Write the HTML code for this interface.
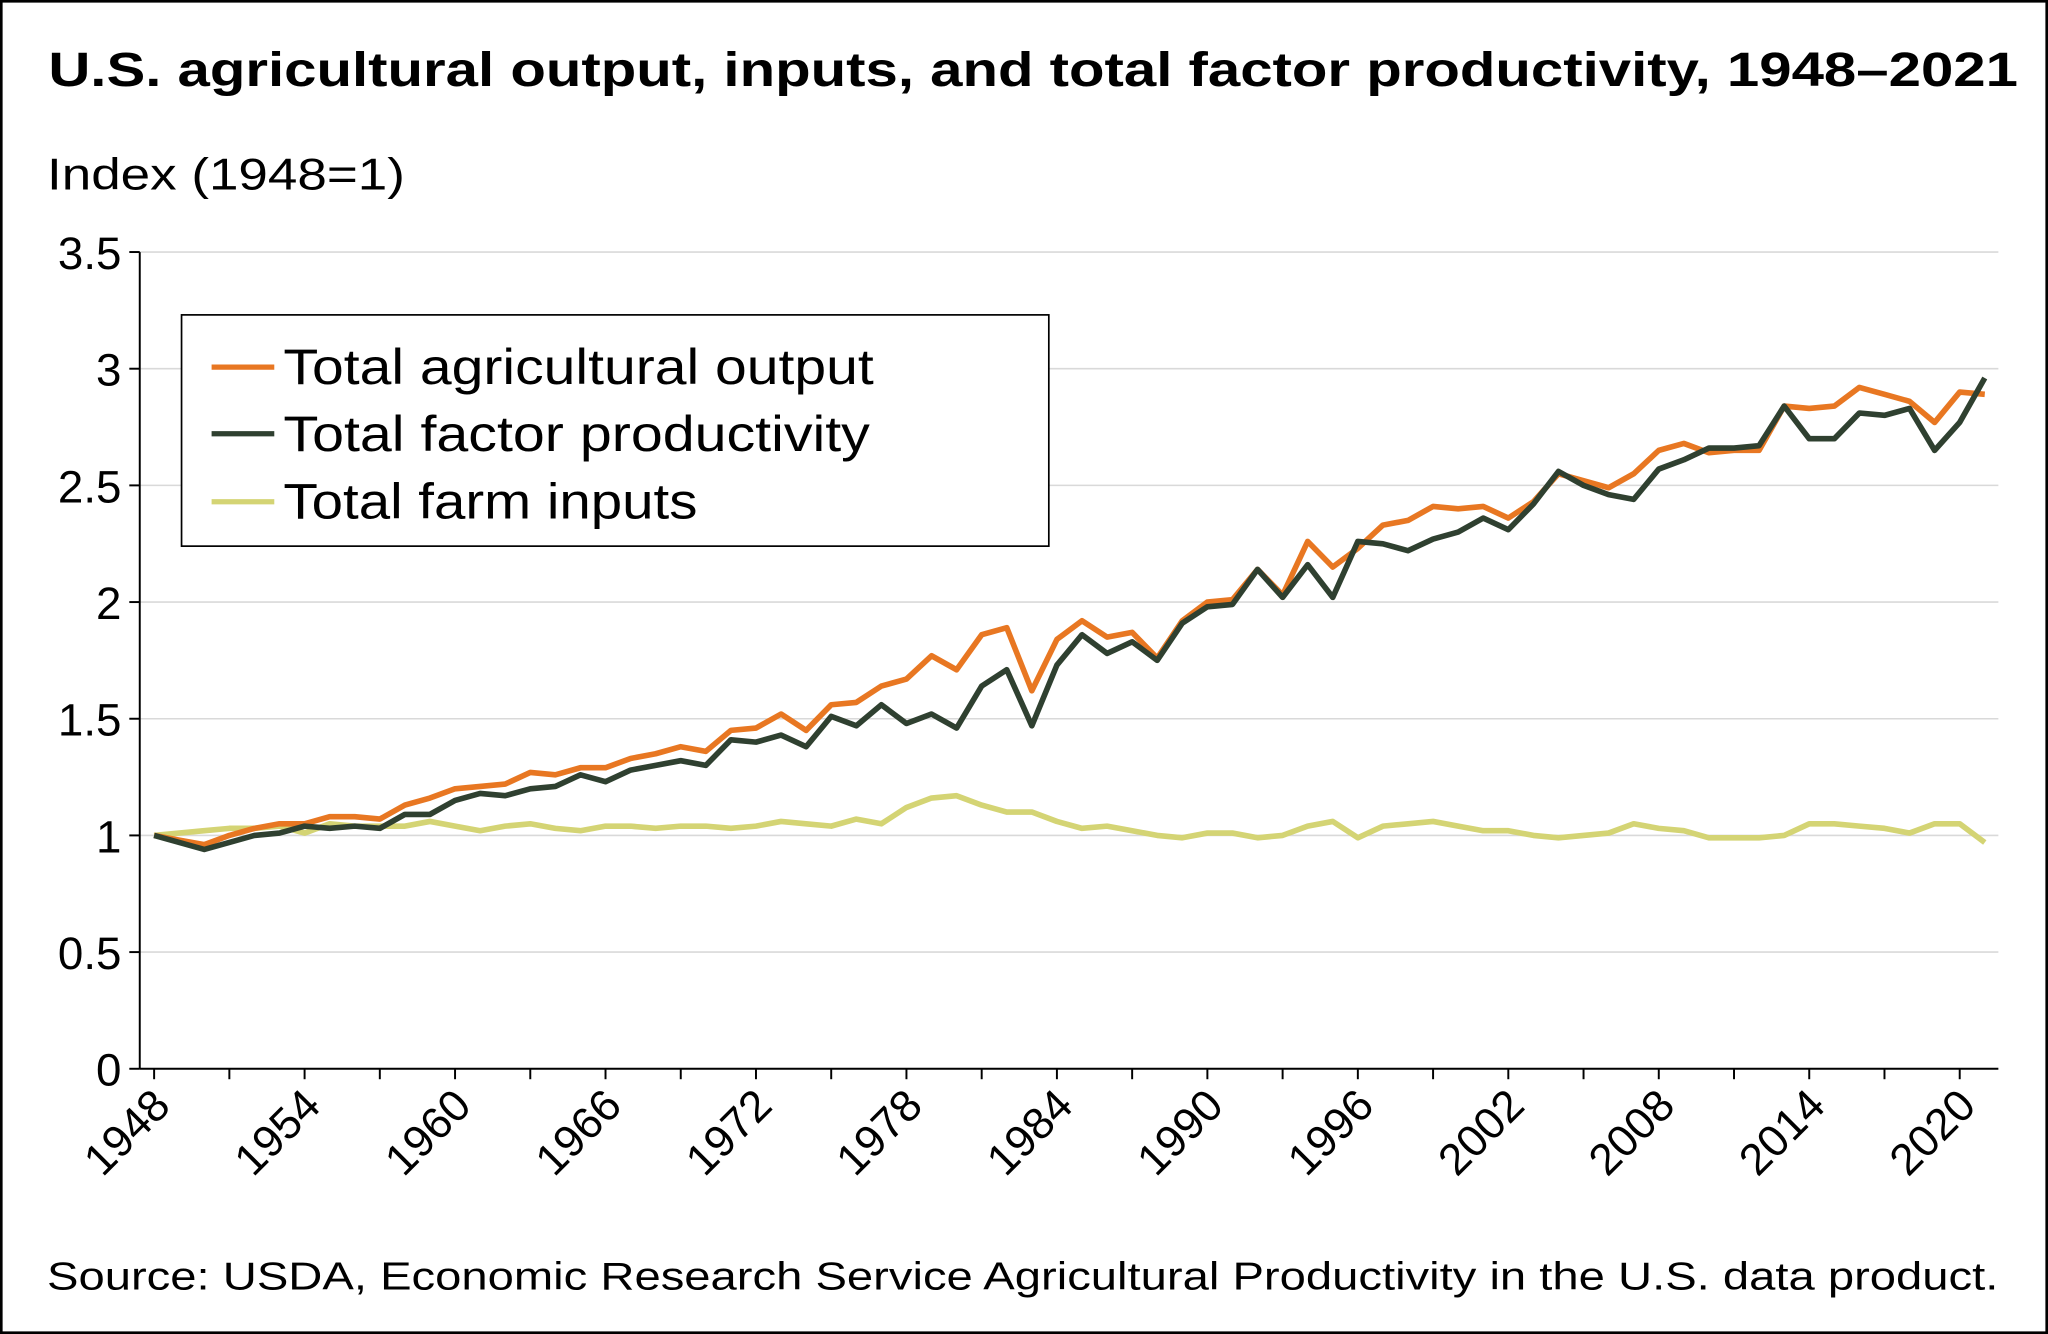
<!DOCTYPE html>
<html><head><meta charset="utf-8"><style>
html,body{margin:0;padding:0;background:#fff}
svg{display:block}
text{font-family:"Liberation Sans",sans-serif;fill:#000}
</style></head><body>
<svg id="s" width="2048" height="1334" viewBox="0 0 1568 1021" preserveAspectRatio="none" xmlns="http://www.w3.org/2000/svg">
<rect x="1" y="1" width="1566" height="1019" fill="#fff" stroke="#000" stroke-width="2"/>
<text x="37" y="66" font-size="37" font-weight="bold" textLength="1508" lengthAdjust="spacingAndGlyphs">U.S. agricultural output, inputs, and total factor productivity, 1948–2021</text>
<text x="36" y="145" font-size="34" textLength="274" lengthAdjust="spacingAndGlyphs">Index (1948=1)</text>
<g id="grid"></g>
<g id="series"></g>
<rect x="139" y="241" width="664" height="177" fill="#fff" stroke="#000" stroke-width="1.3"/>
<line x1="162" y1="281" x2="210" y2="281" stroke="#e87722" stroke-width="4"/>
<line x1="162" y1="332" x2="210" y2="332" stroke="#2f4030" stroke-width="4"/>
<line x1="162" y1="384" x2="210" y2="384" stroke="#d4d474" stroke-width="4"/>
<text x="217" y="294" font-size="38" textLength="452" lengthAdjust="spacingAndGlyphs">Total agricultural output</text>
<text x="217" y="345" font-size="38" textLength="449" lengthAdjust="spacingAndGlyphs">Total factor productivity</text>
<text x="217" y="397" font-size="38" textLength="317" lengthAdjust="spacingAndGlyphs">Total farm inputs</text>
<text x="36" y="987" font-size="30" textLength="1494" lengthAdjust="spacingAndGlyphs">Source: USDA, Economic Research Service Agricultural Productivity in the U.S. data product.</text>
</svg>
<script>
const NS="http://www.w3.org/2000/svg";
const X=y=>118+(y-1948)*19.2, Y=v=>818-v*178.6;
const g=document.getElementById('grid'), s=document.getElementById('series');
function el(p,t,a,txt){const e=document.createElementNS(NS,t);for(const k in a)e.setAttribute(k,a[k]);if(txt)e.textContent=txt;p.appendChild(e);return e;}
for(let i=0;i<=7;i++){const v=i*0.5,y=Y(v);
 if(i>0)el(g,'line',{x1:107,x2:1530,y1:y,y2:y,stroke:'#d9d9d9','stroke-width':1.2});
 el(g,'line',{x1:99,x2:107,y1:y,y2:y,stroke:'#000','stroke-width':1.5});
 el(g,'text',{x:93,y:y+13,'font-size':35,'text-anchor':'end'},String(v));}
el(g,'line',{x1:107,x2:107,y1:193,y2:818,stroke:'#000','stroke-width':1.5});
el(g,'line',{x1:107,x2:1530,y1:818,y2:818,stroke:'#000','stroke-width':1.5});
for(let yr=1948;yr<=2021;yr+=3){el(g,'line',{x1:X(yr),x2:X(yr),y1:818,y2:826,stroke:'#000','stroke-width':1.5});}
for(let yr=1948;yr<=2020;yr+=6){const x=X(yr)+14,y=848;
 el(g,'text',{x:x,y:y,'font-size':34,'text-anchor':'end',transform:`rotate(-45 ${x} ${y})`},String(yr));}
const out=[1.0,.98,.96,1.0,1.03,1.05,1.05,1.08,1.08,1.07,1.13,1.16,1.2,1.21,1.22,1.27,1.26,1.29,1.29,1.33,1.35,1.38,1.36,1.45,1.46,1.52,1.45,1.56,1.57,1.64,1.67,1.77,1.71,1.86,1.89,1.62,1.84,1.92,1.85,1.87,1.76,1.92,2.0,2.01,2.14,2.03,2.26,2.15,2.23,2.33,2.35,2.41,2.4,2.41,2.36,2.43,2.55,2.52,2.49,2.55,2.65,2.68,2.64,2.65,2.65,2.84,2.83,2.84,2.92,2.89,2.86,2.77,2.9,2.89];
const tfp=[1.0,.97,.94,.97,1.0,1.01,1.04,1.03,1.04,1.03,1.09,1.09,1.15,1.18,1.17,1.2,1.21,1.26,1.23,1.28,1.3,1.32,1.3,1.41,1.4,1.43,1.38,1.51,1.47,1.56,1.48,1.52,1.46,1.64,1.71,1.47,1.73,1.86,1.78,1.83,1.75,1.91,1.98,1.99,2.14,2.02,2.16,2.02,2.26,2.25,2.22,2.27,2.3,2.36,2.31,2.42,2.56,2.5,2.46,2.44,2.57,2.61,2.66,2.66,2.67,2.84,2.7,2.7,2.81,2.8,2.83,2.65,2.77,2.96];
const inp=[1.0,1.01,1.02,1.03,1.03,1.04,1.01,1.05,1.04,1.04,1.04,1.06,1.04,1.02,1.04,1.05,1.03,1.02,1.04,1.04,1.03,1.04,1.04,1.03,1.04,1.06,1.05,1.04,1.07,1.05,1.12,1.16,1.17,1.13,1.1,1.1,1.06,1.03,1.04,1.02,1.0,.99,1.01,1.01,.99,1.0,1.04,1.06,.99,1.04,1.05,1.06,1.04,1.02,1.02,1.0,.99,1.0,1.01,1.05,1.03,1.02,.99,.99,.99,1.0,1.05,1.05,1.04,1.03,1.01,1.05,1.05,.97];
function line(d,c){el(s,'polyline',{points:d.map((v,i)=>X(1948+i).toFixed(1)+','+Y(v).toFixed(1)).join(' '),fill:'none',stroke:c,'stroke-width':4.3,'stroke-linejoin':'round'});}
line(inp,'#d4d474');line(out,'#e87722');line(tfp,'#2f4030');
</script>
</body></html>
